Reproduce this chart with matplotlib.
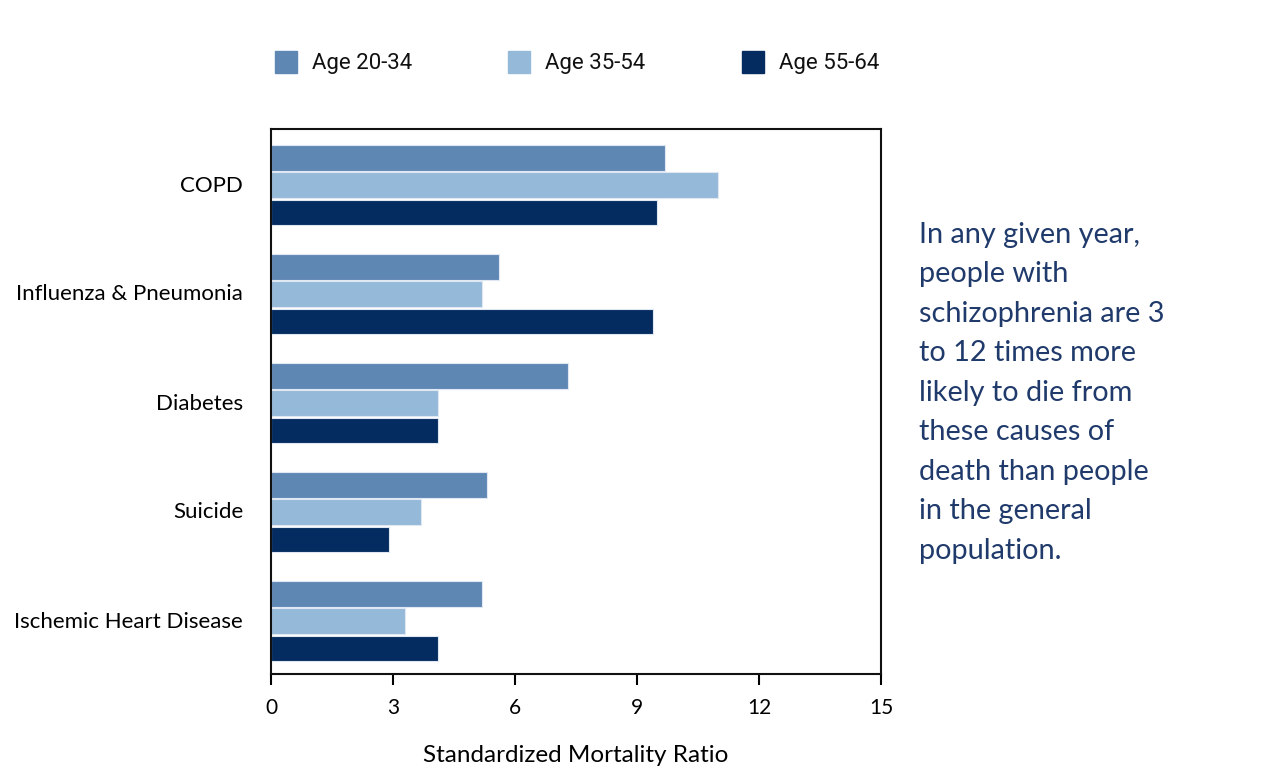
import matplotlib
matplotlib.use("Agg")
import matplotlib.pyplot as plt
import numpy as np

categories = ["COPD", "Influenza & Pneumonia", "Diabetes", "Suicide", "Ischemic Heart Disease"]
series_names = ["Age 20-34", "Age 35-54", "Age 55-64"]
age_20_34 = [9.7, 5.6, 7.3, 5.3, 5.2]
age_35_54 = [11.0, 5.2, 4.1, 3.7, 3.3]
age_55_64 = [9.5, 9.4, 4.1, 2.9, 4.1]
xticks = [0, 3, 6, 9, 12, 15]
note = ("In any given year,\npeople with\nschizophrenia are 3\nto 12 times more\n"
        "likely to die from\nthese causes of\ndeath than people\nin the general\npopulation.")

colors = ["#5f87b4", "#95b9d8", "#052c60"]
plt.rcParams['font.family'] = ['Lato', 'DejaVu Sans']

fig = plt.figure(figsize=(12.8, 7.82), dpi=100)
ax = fig.add_axes([271/1280, 1-674/782, 610/1280, 545/782])

y = np.arange(len(categories))
h = 0.235
step = 0.25
for i, (vals, c) in enumerate(zip([age_20_34, age_35_54, age_55_64], colors)):
    ax.barh(y + (i - 1) * step + 0.015, vals, height=h, color=c, edgecolor="#dfe8f2", linewidth=0.8)

ax.set_ylim(len(categories) - 0.5, -0.5)
ax.set_xlim(0, 15)
ax.set_xticks(xticks)
ax.set_xticklabels([str(t) for t in xticks], fontsize=15)
ax.set_yticks(y)
ax.set_yticklabels(categories, fontsize=16)
ax.tick_params(axis='y', length=0, pad=20)
ax.tick_params(axis='x', direction='out', length=8, width=1.5, pad=9)
for s in ax.spines.values():
    s.set_linewidth(1.5)
    s.set_color("#111111")
ax.set_xlabel("Standardized Mortality Ratio", fontsize=17.5, labelpad=20)

# legend
legx = [275, 508, 742]
for name, c, lx in zip(series_names, colors, legx):
    fig.patches.append(plt.Rectangle((lx/1280, 1-73/782), 22/1280, 22/782,
                                     transform=fig.transFigure, color=c, figure=fig))
    fig.text((lx + 37)/1280, 1-63/782, name, fontsize=16, va='center', ha='left',
             family=['Roboto', 'DejaVu Sans'], color="#111111")

fig.text(919/1280, 1-222/782, note, fontsize=20.8, color="#1f3a6b", va='top', ha='left',
         linespacing=1.64)

fig.savefig("out.png", dpi=100, facecolor="white")
